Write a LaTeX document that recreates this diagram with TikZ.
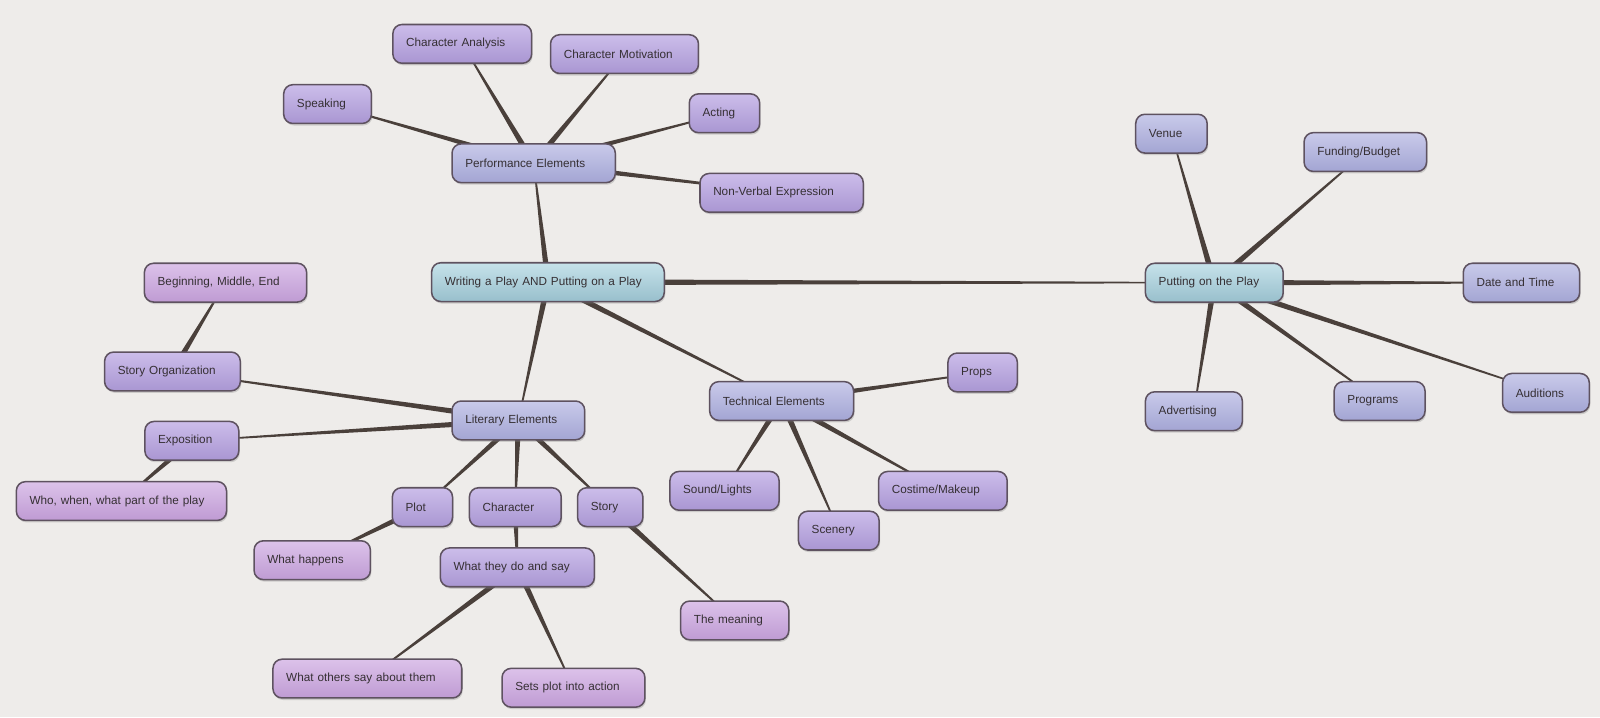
\documentclass[tikz,border=0pt]{standalone}
\usepackage{fontspec}
\setmainfont{Liberation Sans}
\usetikzlibrary{calc,shadows,backgrounds}
\definecolor{paper}{HTML}{EEECEA}
\definecolor{wire}{HTML}{4A403B}
\definecolor{rim}{HTML}{5E5260}
\definecolor{ink}{HTML}{352F33}
\newcommand{\taper}[2]{\fill[wire] ($(#1)!3pt!90:(#2)$) -- ($(#2)!0.5pt!-90:(#1)$) -- ($(#2)!0.5pt!90:(#1)$) -- ($(#1)!3pt!-90:(#2)$) -- cycle;}

\begin{document}
\begin{tikzpicture}[x=1pt,y=-1pt,
        box/.style={rounded corners=9pt, draw=rim, line width=1.5pt, minimum height=38pt, inner xsep=13pt, align=left,
            font=\fontsize{11.5}{13}\selectfont, text=ink, drop shadow={shadow xshift=1pt, shadow yshift=-2pt, opacity=0.3}},
        hubbox/.style={box, top color=hubtop, bottom color=hubbot},
        midbox/.style={box, top color=midtop, bottom color=midbot},
        leafbox/.style={box, top color=leaftop, bottom color=leafbot},
        tipbox/.style={box, top color=tiptop, bottom color=tipbot}]
            \definecolor{hubtop}{HTML}{C6E2EA}\definecolor{hubbot}{HTML}{98BFCC}
            \definecolor{midtop}{HTML}{C9CAEA}\definecolor{midbot}{HTML}{A3A5D3}
            \definecolor{leaftop}{HTML}{CCBDEA}\definecolor{leafbot}{HTML}{A996D2}
            \definecolor{tiptop}{HTML}{DCC2EA}\definecolor{tipbot}{HTML}{BF9BD3}

            \useasboundingbox (0,0) rectangle (1568,702.7);

            % centre and performance branch
            \node[hubbox, text width=202pt] (root) at (537,276.5) {Writing a Play AND Putting on a Play};
            \node[midbox, text width=134pt] (perf) at (523,160) {Performance Elements};
            \node[leafbox, text width=110pt] (analysis) at (453,43) {Character Analysis};
            \node[leafbox, text width=119pt] (motive) at (612,53) {Character Motivation};
            \node[leafbox, text width=60pt] (speak) at (321,102) {Speaking};
            \node[leafbox, text width=43pt] (act) at (710,111) {Acting};
            \node[leafbox, text width=134pt] (nonverbal) at (766,189) {Non-Verbal Expression};

            % literary branch
            \node[midbox, text width=104pt] (lit) at (508,412) {Literary Elements};
            \node[tipbox, text width=133pt] (bme) at (221,277) {Beginning, Middle, End};
            \node[leafbox, text width=107pt] (storyorg) at (169,364) {Story Organization};
            \node[leafbox, text width=66pt] (expo) at (188,432) {Exposition};
            \node[tipbox, text width=180pt] (who) at (119,491) {Who, when, what part of the play};
            \node[leafbox, text width=33pt] (plot) at (414,497) {Plot};
            \node[leafbox, text width=64pt] (char) at (505,497) {Character};
            \node[leafbox, text width=38pt] (story) at (598,497) {Story};
            \node[tipbox, text width=88pt] (happens) at (306,549) {What happens};
            \node[leafbox, text width=125pt] (dosay) at (507,556) {What they do and say};
            \node[tipbox, text width=159pt] (others) at (360,665) {What others say about them};
            \node[tipbox, text width=114pt] (sets) at (562,674) {Sets plot into action};
            \node[tipbox, text width=80pt] (meaning) at (720,608) {The meaning};

            % technical branch
            \node[midbox, text width=115pt] (tech) at (766,393) {Technical Elements};
            \node[leafbox, text width=42pt] (props) at (963,365) {Props};
            \node[leafbox, text width=81pt] (sound) at (710,481) {Sound/Lights};
            \node[leafbox, text width=53pt] (scenery) at (822,520) {Scenery};
            \node[leafbox, text width=100pt] (costume) at (924,481) {Costime/Makeup};

            % putting on the play
            \node[hubbox, text width=109pt] (putting) at (1190,277) {Putting on the Play};
            \node[midbox, text width=44pt] (venue) at (1148,131) {Venue};
            \node[midbox, text width=94pt] (funding) at (1338,149) {Funding/Budget};
            \node[midbox, text width=88pt] (datetime) at (1491,277) {Date and Time};
            \node[midbox, text width=69pt] (advert) at (1170,403) {Advertising};
            \node[midbox, text width=63pt] (programs) at (1352,393) {Programs};
            \node[midbox, text width=59pt] (auditions) at (1515,385) {Auditions};

            \begin{pgfonlayer}{background}
                \fill[paper] (0,0) rectangle (1568,702.7);
                \foreach \from/\to in {root/perf, root/lit, root/tech, root/putting,
                    perf/analysis, perf/motive, perf/speak, perf/act, perf/nonverbal,
                    lit/storyorg, lit/expo, lit/plot, lit/char, lit/story,
                    storyorg/bme, expo/who, plot/happens, char/dosay, story/meaning,
                    dosay/others, dosay/sets,
                    tech/props, tech/sound, tech/scenery, tech/costume,
                    putting/venue, putting/funding, putting/datetime, putting/advert, putting/programs, putting/auditions}{
                    \taper{\from}{\to}
                }
            \end{pgfonlayer}
        \end{tikzpicture}
\end{document}
